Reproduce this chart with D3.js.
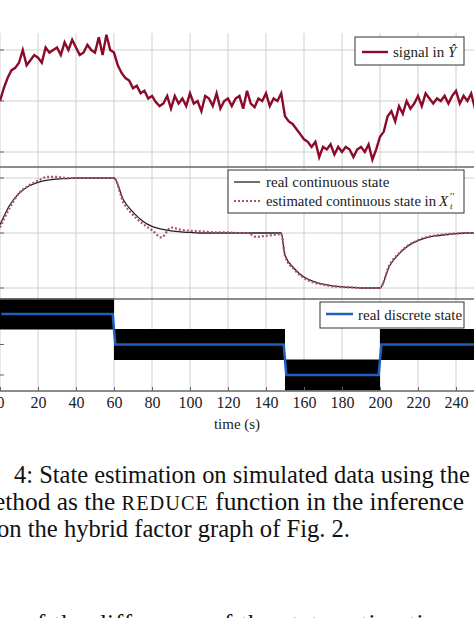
<!DOCTYPE html>
<html><head><meta charset="utf-8">
<script src="https://cdn.jsdelivr.net/npm/d3@7"></script>
<style>body{margin:0;background:#fff}svg{display:block}text{font-family:"Liberation Serif",serif}</style>
</head><body><svg id="c" width="474" height="618"></svg>
<script>
const xTicks=[0,20,40,60,80,100,120,140,160,180,200,220,240];
const signal=[1.0,1.25,1.45,1.6,1.65,1.75,2.0,1.7,1.8,1.9,1.85,
1.75,2.05,1.95,2.0,2.05,1.9,2.15,2.0,2.2,2.05,
1.9,1.95,2.1,2.0,1.95,2.25,1.9,2.3,2.0,1.95,
1.7,1.55,1.45,1.4,1.25,1.3,1.15,1.2,1.05,1.1,
0.98,0.9,0.95,1.1,0.85,1.1,0.95,1.05,0.9,1.15,
0.95,1.0,0.8,1.1,1.05,0.9,1.15,0.85,1.0,1.05,
0.9,1.05,1.1,0.85,1.2,0.95,0.88,1.05,1.0,1.15,
0.9,1.05,1.0,1.15,0.7,0.6,0.55,0.45,0.35,0.25,
0.2,0.1,0.2,-0.1,0.1,0.05,0.15,-0.05,0.1,0.0,
0.1,0.05,-0.1,0.05,0.1,0.0,0.15,-0.15,0.05,0.3,
0.4,0.7,0.8,0.6,0.9,0.75,1.0,0.85,0.95,1.1,
0.9,1.15,1.05,0.95,1.05,1.0,1.1,0.95,1.1,1.2,
0.95,1.1,1.0,1.15,0.85];
const signalT=signal.map((d,i)=>i*2);
const stateT=[0,5,10,15,20,25,30,35,40,45,50,55,60,65,70,75,80,85,90,95,100,105,110,115,120,125,130,135,140,145,148,150,155,160,165,170,175,180,185,190,195,200,205,210,215,220,225,230,235,240,245,250];
const realState=[1.15,1.5,1.72,1.85,1.92,1.96,1.98,1.99,2.0,2.0,2.0,2.0,2.0,1.6,1.38,1.22,1.12,1.07,1.04,1.02,1.01,1.0,1.0,1.0,1.0,1.0,1.0,1.0,1.0,1.0,1.0,0.6,0.35,0.2,0.12,0.07,0.04,0.02,0.01,0.0,0.0,0.0,0.4,0.62,0.77,0.86,0.92,0.95,0.97,0.99,1.0,1.0];
const estState=[1.1,1.45,1.72,1.86,1.95,2.02,2.02,2.0,2.0,2.0,2.0,2.0,2.0,1.55,1.33,1.17,1.05,0.92,1.1,1.06,1.04,1.03,1.02,1.01,1.01,1.0,1.0,0.93,0.95,0.97,0.98,0.58,0.33,0.18,0.1,0.06,0.03,0.02,0.01,0.0,0.0,0.0,0.42,0.63,0.78,0.87,0.93,0.96,0.98,0.99,1.0,1.0];
const discStart=[0,60,150,200];
const discEnd=[60,150,200,252];
const discLevel=[1,2,3,2];
const xLabel="time (s)";
const caption=["4: State estimation on simulated data using the r","ethod as the REDUCE function in the inference","on the hybrid factor graph of Fig. 2."];

const svg=d3.select("#c");
const x=d3.scaleLinear().domain([0,240]).range([0,456]);
const W=474;
const gridC="#d0d0d0";
function vgrid(y0,y1){svg.append("g").selectAll("line").data(xTicks).join("line")
 .attr("x1",d=>x(d)).attr("x2",d=>x(d)).attr("y1",y0).attr("y2",y1).attr("stroke",gridC).attr("stroke-width",1);}
function hgrid(vals,y){svg.append("g").selectAll("line").data(vals).join("line")
 .attr("x1",0).attr("x2",W).attr("y1",d=>y(d)).attr("y2",d=>y(d)).attr("stroke",gridC);}

const y1=d3.scaleLinear().domain([0,2]).range([152,50]);
vgrid(33,167);hgrid([0,1,2],y1);
svg.append("path").datum(signal).attr("fill","none").attr("stroke","#8b0a2a").attr("stroke-width",2.4)
 .attr("d",d3.line().x((d,i)=>x(signalT[i])).y(d=>y1(d)));
const y2=d3.scaleLinear().domain([0,2]).range([288,178]);
vgrid(167,299);hgrid([0,1,2],y2);
svg.append("path").datum(realState).attr("fill","none").attr("stroke","#222").attr("stroke-width",1.3)
 .attr("d",d3.line().curve(d3.curveMonotoneX).x((d,i)=>x(stateT[i])).y(d=>y2(d)));
svg.append("path").datum(estState).attr("fill","none").attr("stroke","#b0506a").attr("stroke-width",2.2).attr("stroke-dasharray","2,2")
 .attr("d",d3.line().curve(d3.curveMonotoneX).x((d,i)=>x(stateT[i])).y(d=>y2(d)));
const y3=d3.scaleLinear().domain([1,3]).range([314,375]);
vgrid(299,391);
const segs=discStart.map((s,i)=>({s,e:discEnd[i],l:discLevel[i]}));
svg.append("g").selectAll("rect").data(segs).join("rect")
 .attr("x",d=>x(d.s)).attr("width",d=>x(d.e)-x(d.s)).attr("y",d=>y3(d.l)-15.5).attr("height",31).attr("fill","#000");
const stepPts=[];segs.forEach(d=>{stepPts.push([d.s+0.7,d.l],[d.e-0.7,d.l]);});
svg.append("path").datum(stepPts).attr("fill","none").attr("stroke","#1f5fbf").attr("stroke-width",2.5)
 .attr("d",d3.line().x(d=>x(d[0])).y(d=>y3(d[1])));
[[y1,[0,1,2]],[y2,[0,1,2]],[y3,[2,3]]].forEach(([s,v])=>svg.append("g").selectAll("line").data(v).join("line")
 .attr("x1",0).attr("x2",4).attr("y1",d=>s(d)).attr("y2",d=>s(d)).attr("stroke","#666"));
[167,299,391].forEach(yy=>svg.append("line").attr("x1",0).attr("x2",W).attr("y1",yy).attr("y2",yy).attr("stroke","#666").attr("stroke-width",1.3));
const ax=svg.append("g").attr("transform","translate(0,391)").call(d3.axisBottom(x).tickValues(xTicks).tickSize(-4).tickPadding(6));
ax.select(".domain").remove();ax.selectAll("line").attr("stroke","#666");
ax.selectAll("text").attr("font-size",16).attr("font-family","Liberation Serif").attr("fill","#222");
svg.append("text").attr("x",237).attr("y",429).attr("text-anchor","middle").attr("font-size",15).attr("fill","#222").text(xLabel);
function legend(x0,y0,w,h){svg.append("rect").attr("x",x0).attr("y",y0).attr("width",w).attr("height",h).attr("fill","#fff").attr("stroke","#333").attr("stroke-width",1);}
legend(355,37,109,28);
svg.append("line").attr("x1",362).attr("x2",388).attr("y1",52).attr("y2",52).attr("stroke","#8b0a2a").attr("stroke-width",2.4);
svg.append("text").attr("x",393).attr("y",57).attr("font-size",15).attr("fill","#222").html('signal in <tspan font-style="italic">Ŷ</tspan>');
legend(228,170,236,43);
svg.append("line").attr("x1",234).attr("x2",260).attr("y1",182).attr("y2",182).attr("stroke","#222").attr("stroke-width",1.3);
svg.append("text").attr("x",266).attr("y",187).attr("font-size",15).attr("fill","#222").text("real continuous state");
svg.append("line").attr("x1",234).attr("x2",260).attr("y1",201).attr("y2",201).attr("stroke","#b0506a").attr("stroke-width",2.2).attr("stroke-dasharray","2,2");
svg.append("text").attr("x",266).attr("y",206).attr("font-size",15).attr("fill","#222").attr("textLength",170).attr("lengthAdjust","spacingAndGlyphs").text("estimated continuous state in");
svg.append("text").attr("x",439).attr("y",206).attr("font-size",15).attr("font-style","italic").attr("fill","#222").text("X");
svg.append("text").attr("x",450).attr("y",200).attr("font-size",10).attr("fill","#222").text("′′");
svg.append("text").attr("x",450).attr("y",209).attr("font-size",9).attr("font-style","italic").attr("fill","#222").text("t");
legend(320,302,144,26);
svg.append("line").attr("x1",326).attr("x2",353).attr("y1",314).attr("y2",314).attr("stroke","#1f5fbf").attr("stroke-width",2.5);
svg.append("text").attr("x",358).attr("y",320).attr("font-size",15).attr("fill","#222").text("real discrete state");
const cx=[14,-6,-3],cw=[470,470,353];
caption.forEach((c,i)=>{const t=svg.append("text").attr("x",cx[i]).attr("y",483+i*27).attr("font-size",25).attr("fill","#111")
 .attr("textLength",cw[i]).attr("lengthAdjust","spacingAndGlyphs");
 if(i===1){t.html('ethod as the <tspan font-size="20" letter-spacing="1">REDUCE</tspan> function in the inference');}else t.text(c);});
svg.append("text").attr("x",-6).attr("y",632).attr("font-size",25).attr("fill","#111").attr("textLength",490).text("or of the difference of the state estimation wi");
</script></body></html>
